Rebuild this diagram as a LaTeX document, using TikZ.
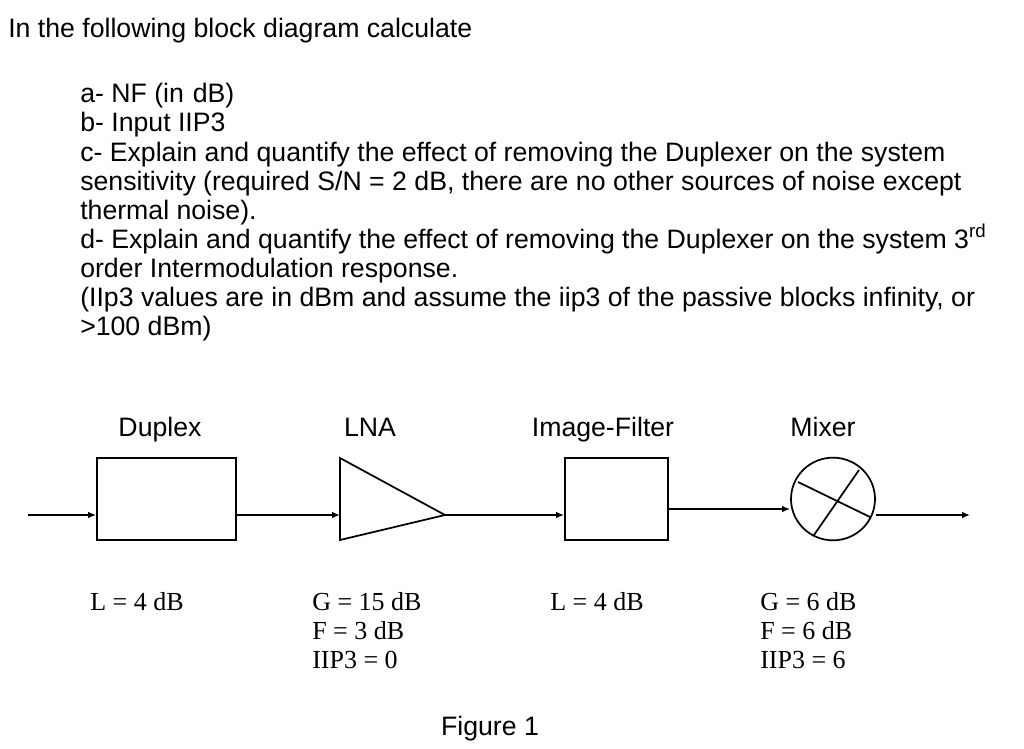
\documentclass[tikz,border=0pt]{standalone}
\usepackage{fontspec}
\setmainfont{Liberation Sans}
\newfontfamily\tms{Liberation Serif}
\usetikzlibrary{arrows.meta,shapes.geometric}
\begin{document}
\begin{tikzpicture}[x=0.75pt,y=-0.75pt,
  txt/.style={anchor=base west,inner sep=0,font=\fontsize{20}{22}\selectfont},
  val/.style={anchor=base west,inner sep=0,font=\tms\fontsize{19.5}{22}\selectfont},
  lab/.style={anchor=base,inner sep=0,font=\fontsize{20}{22}\selectfont},
  blk/.style={draw,line width=1.3pt},
  con/.style={line width=1.3pt,-{Latex[length=6pt,width=5pt]}}]
\useasboundingbox (0,0) rectangle (1024,749);
\node[txt] (t0) at (8,38) {In the following block diagram calculate};
\node[txt] (t1) at (80,103) {a- NF (in\,\,dB)};
\node[txt] (t2) at (80,132) {b- Input IIP3};
\node[txt] (t3) at (80,161) {c- Explain and quantify the effect of removing the Duplexer on the system};
\node[txt] (t4) at (80,190) {sensitivity (required S/N = 2 dB, there are no other sources of noise except};
\node[txt] (t5) at (80,219) {thermal noise).};
\node[txt] (t6) at (80,248) {d- Explain and quantify the effect of removing the Duplexer on the system 3\textsuperscript{rd}};
\node[txt] (t7) at (80,277) {order Intermodulation response.};
\node[txt] (t8) at (80,306) {(IIp3 values are in dBm and assume the iip3 of the passive blocks infinity, or};
\node[txt] (t9) at (80,335) {>100 dBm)};
\node[lab] (l1) at (160,436) {Duplex};
\node[lab] (l2) at (370,436) {LNA};
\node[lab] (l3) at (603,436) {Image-Filter};
\node[lab] (l4) at (823,436) {Mixer};
\node[blk,minimum width=104.25pt,minimum height=61.5pt,inner sep=0] (dup) at (166.5,499) {};
\coordinate (lt) at (340,458);
\coordinate (lb) at (340,540);
\coordinate (ap) at (445,515);
\draw[blk,line join=miter] (lt) -- (ap) -- (lb) -- cycle;
\node[blk,minimum width=77.25pt,minimum height=61.5pt,inner sep=0] (img) at (616.5,499) {};
\node[blk,ellipse,minimum width=63pt,minimum height=62pt,inner sep=0] (mix) at (833,499) {};
\draw[line width=1.3pt] ([shift={(-35,-17)}]mix.center) -- ([shift={(37,18)}]mix.center);
\draw[line width=1.3pt] ([shift={(26,-29)}]mix.center) -- ([shift={(-19,36)}]mix.center);
\coordinate (in) at (28,515);
\coordinate (out) at (970,515);
\draw[con] (in) -- (dup.west |- in);
\draw[con] (dup.east |- in) -- (lt |- in);
\draw[con] (ap) -- (img.west |- ap);
\draw[con] (img.east |- 0,509) -- (mix.west |- 0,509);
\draw[con] (mix.east |- out) -- (out);
\node[val] (v1) at (90,610) {L = 4 dB};
\node[val] (v2) at (312,610) {G = 15 dB};
\node[val] (v3) at (312,639) {F = 3 dB};
\node[val] (v4) at (312,668) {IIP3 = 0};
\node[val] (v5) at (550,610) {L = 4 dB};
\node[val] (v6) at (760,610) {G = 6 dB};
\node[val] (v7) at (760,639) {F = 6 dB};
\node[val] (v8) at (760,668) {IIP3 = 6};
\node[lab] (fig) at (490,735) {Figure 1};
\end{tikzpicture}
\end{document}
